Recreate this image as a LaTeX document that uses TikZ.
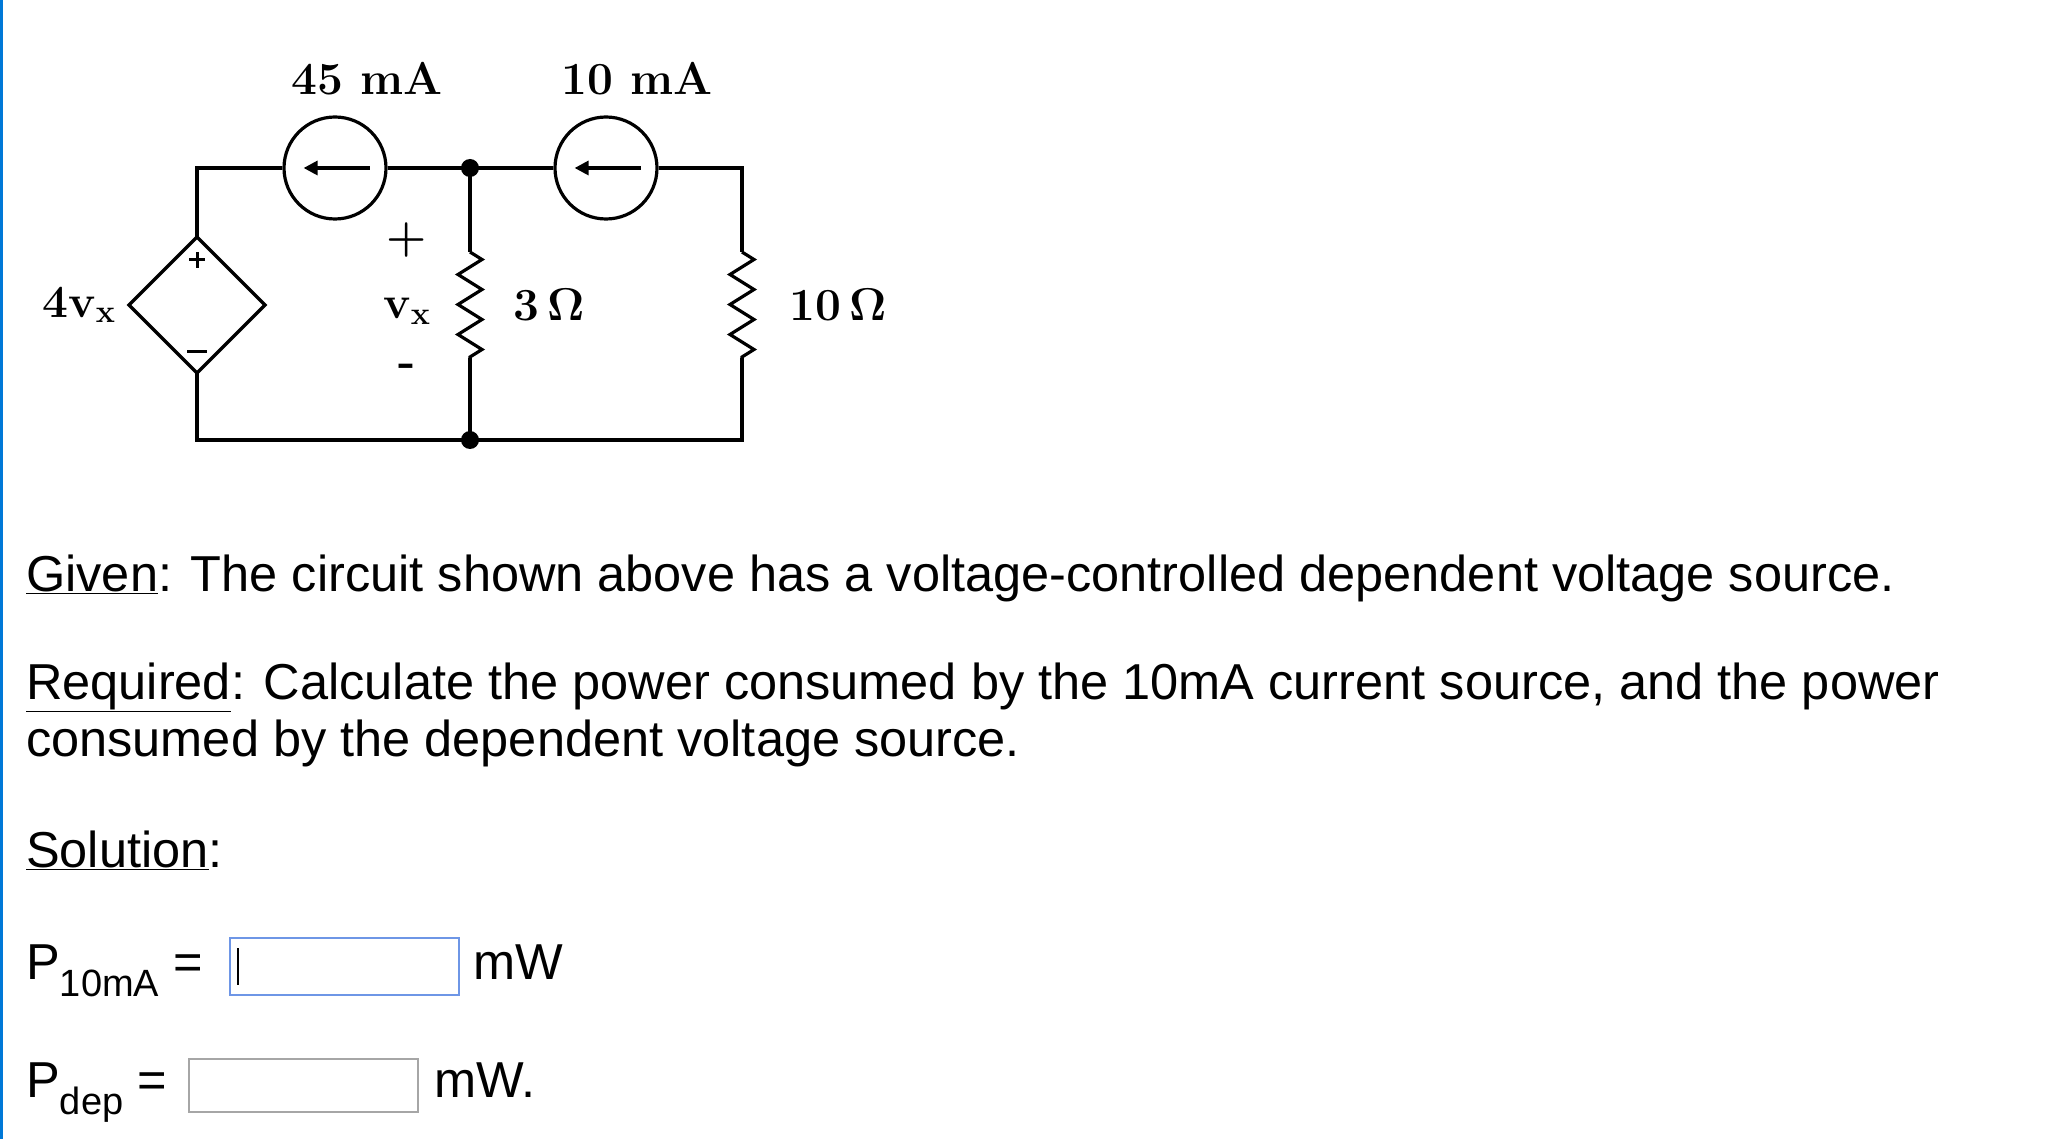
\documentclass[tikz,border=0pt]{standalone}
\usepackage{fontspec}
\setsansfont{Liberation Sans}
\usetikzlibrary{decorations.pathmorphing,arrows.meta}
\begin{document}
\begin{tikzpicture}[x=1pt,y=-1pt,
  wire/.style={line width=3.2pt},
  ckt/.style={font=\fontsize{46}{50}\selectfont\bfseries},
  txt/.style={font=\sffamily\fontsize{50.5}{60}\selectfont,anchor=base west,inner sep=0pt},
  res/.style={wire,decorate,decoration={zigzag,segment length=30pt,amplitude=12pt}}]
\useasboundingbox (0,0) rectangle (2046,1139);
\fill[white] (0,0) rectangle (2046,1139);
\draw[line width=3pt,color={rgb,255:red,0;green,120;blue,215}] (1.5,0) -- (1.5,1139);
\coordinate (tl) at (197,168); \coordinate (tm) at (470,168); \coordinate (tr) at (742,168);
\coordinate (bl) at (197,440); \coordinate (bm) at (470,440); \coordinate (br) at (742,440);
\node[draw,wire,circle,minimum size=102pt,inner sep=0pt] (s45) at (335,168) {};
\node[draw,wire,circle,minimum size=102pt,inner sep=0pt] (s10) at (606,168) {};
\draw[wire,-{Triangle[length=14pt,width=14pt]}] (s45.east)++(-18,0) -- ++(-66,0);
\draw[wire,-{Triangle[length=14pt,width=14pt]}] (s10.east)++(-18,0) -- ++(-66,0);
\coordinate (dt) at (197,237); \coordinate (db) at (197,373);
\draw[wire] (dt) -- (265,305) -- (db) -- (129,305) -- cycle;
\draw[line width=3pt] (189,260) -- (205,260) (197,252) -- (197,268);
\draw[line width=3pt] (187,352) -- (207,352);
\coordinate (r1a) at (470,252); \coordinate (r1b) at (470,358);
\coordinate (r2a) at (742,252); \coordinate (r2b) at (742,358);
\draw[wire] (dt) -- (tl) -- (s45.west);
\draw[wire] (s45.east) -- (tm) -- (s10.west);
\draw[wire] (s10.east) -- (tr) -- (r2a);
\draw[wire] (db) -- (bl) -- (br) -- (r2b);
\draw[wire] (tm) -- (r1a); \draw[wire] (r1b) -- (bm);
\draw[res] (r1a) -- (r1b);
\draw[res] (r2a) -- (r2b);
\fill (tm) circle (9pt); \fill (bm) circle (9pt);
\node[ckt] (l45) at (367,79) {45 mA};
\node[ckt] (l10) at (637,79) {10 mA};
\node[ckt] (l4v) at (79,305) {4v\textsubscript{x}};
\node[ckt] (lp) at (407,240) {+};
\node[ckt] (lvx) at (407,311) {v\textsubscript{x}};
\node[ckt] (lm) at (407,370) {-};
\node[ckt] (l3) at (549,305) {3\,Ω};
\node[ckt] (l10r) at (838,305) {10\,Ω};
\node[txt] (g) at (26,591) {\underline{Given}: The circuit shown above has a voltage-controlled dependent voltage source.};
\node[txt] (r) at (26,699) {\underline{Required}: Calculate the power consumed by the 10mA current source, and the power};
\node[txt] (r2) at (26,756) {consumed by the dependent voltage source.};
\node[txt] (s) at (26,867) {\underline{Solution}:};
\node[txt] (p1) at (26,979) {P\raisebox{-0.35em}{\fontsize{38}{38}\selectfont 10mA} =};
\draw[line width=2.5pt,color={rgb,255:red,110;green,150;blue,230}] (230,938) rectangle (459,995);
\draw[line width=1.5pt] (238,948) -- (238,985);
\node[txt] (mw1) at (473,979) {mW};
\node[txt] (p2) at (26,1097) {P\raisebox{-0.35em}{\fontsize{38}{38}\selectfont dep} =};
\draw[line width=1.5pt,color=black!35] (189,1059) rectangle (418,1112);
\node[txt] (mw2) at (434,1097) {mW.};
\end{tikzpicture}
\end{document}
